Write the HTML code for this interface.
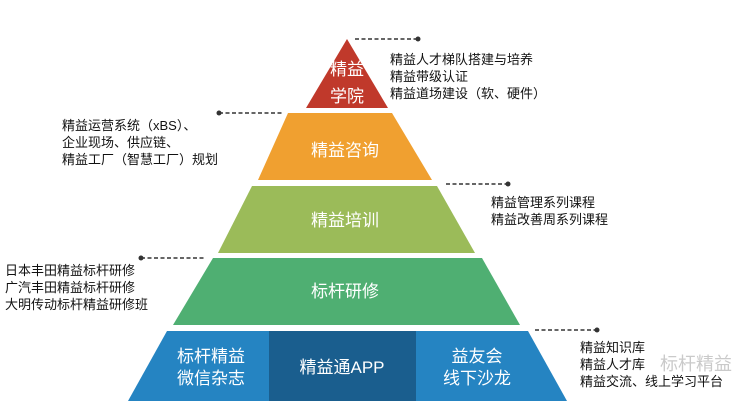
<!DOCTYPE html>
<html><head><meta charset="utf-8"><style>
body{margin:0;width:744px;height:408px;background:#fff;overflow:hidden;position:relative;font-family:"Liberation Sans","Noto Sans CJK SC",sans-serif}
.t{position:absolute;font-size:13px;line-height:17px;color:#111;white-space:nowrap}
</style></head><body>
<svg width="744" height="408" style="position:absolute;left:0;top:0">
<polygon points="347,39 388,108 306,108" fill="#c0392b"/>
<polygon points="288,113 392,113 432,180 258,180" fill="#f0a030"/>
<polygon points="252,186 437,186 475,253 218,253" fill="#9bbb59"/>
<polygon points="213,258 482,258 520,325 173,325" fill="#4faf72"/>
<polygon points="167,331 528,331 567,401 128,401" fill="#2584c2"/>
<rect x="269" y="331" width="147" height="70" fill="#1a5e8e"/>
<g stroke="#333" stroke-width="1.6" stroke-dasharray="4,2.5" fill="none">
<line x1="355" y1="39" x2="418" y2="39"/>
<line x1="219" y1="113" x2="283" y2="113"/>
<line x1="446" y1="184" x2="508" y2="184"/>
<line x1="141" y1="258" x2="204" y2="258"/>
<line x1="535" y1="330" x2="597" y2="330"/>
</g>
<g fill="#333"><circle cx="418" cy="39" r="2.5"/><circle cx="219" cy="113" r="2.5"/><circle cx="508" cy="184" r="2.5"/><circle cx="141" cy="258" r="2.5"/><circle cx="597" cy="330" r="2.5"/></g>
<g fill="#fff" font-size="17" text-anchor="middle" font-family="Liberation Sans,Noto Sans CJK SC,sans-serif">
<text x="347" y="75">精益</text><text x="347" y="102">学院</text>
<text x="345" y="156">精益咨询</text>
<text x="345" y="226">精益培训</text>
<text x="345" y="297">标杆研修</text>
<text x="211" y="362">标杆精益</text><text x="211" y="384">微信杂志</text>
<text x="342" y="373">精益通APP</text>
<text x="477" y="362">益友会</text><text x="477" y="384">线下沙龙</text>
</g>
</svg>
<div class="t" style="left:390px;top:51px">精益人才梯队搭建与培养<br>精益带级认证<br>精益道场建设（软、硬件）</div>
<div class="t" style="left:62px;top:117px">精益运营系统（xBS）、<br>企业现场、供应链、<br>精益工厂（智慧工厂）规划</div>
<div class="t" style="left:491px;top:194px">精益管理系列课程<br>精益改善周系列课程</div>
<div class="t" style="left:5px;top:262px">日本丰田精益标杆研修<br>广汽丰田精益标杆研修<br>大明传动标杆精益研修班</div>
<div class="t" style="left:580px;top:339px">精益知识库<br>精益人才库<br>精益交流、线上学习平台</div>
<div class="t" style="left:660px;top:356px;font-size:18px;color:rgba(150,150,150,0.5)">标杆精益</div>
</body></html>
